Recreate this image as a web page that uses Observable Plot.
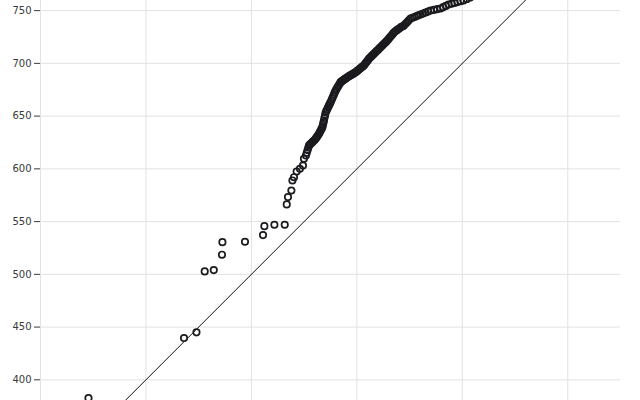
<!DOCTYPE html>
<html>
<head>
<meta charset="utf-8">
<script src="https://cdn.jsdelivr.net/npm/d3@7"></script>
<script src="https://cdn.jsdelivr.net/npm/@observablehq/plot@0.6"></script>
<style>
  html, body { margin: 0; padding: 0; background: #fff; }
  #chart svg { display: block; }
</style>
</head>
<body>
<div id="chart"></div>
<script>
// Theoretical quantiles (x) and sorted sample values (y)
const theoretical = [
  345.5, 436.1, 447.9, 455.7, 464.3, 472.1, 472.5, 493.9, 511.0, 512.3, 521.8, 531.6,
  533.5, 534.7, 537.9, 538.9, 540.4, 542.9, 546.0, 548.9, 549.8, 551.7,
  552.5, 553.3, 554.0, 554.6, 555.6, 556.7, 557.8, 558.8, 559.9, 560.9,
  561.7, 562.5, 563.3, 564.1, 564.9, 565.7, 566.5, 567.3, 567.8, 568.3, 568.8,
  569.3, 569.9, 570.4, 571.2, 572.0, 572.7, 573.5, 574.3, 575.1,
  575.9, 576.7, 577.5, 578.3, 579.1, 579.9, 580.8, 581.8, 582.7, 583.7, 584.6,
  585.5, 586.4, 587.3, 588.2, 589.1, 590.1, 591.0,
  592.0, 593.0, 593.9, 594.9, 595.9, 596.9, 597.8, 598.8,
  599.8, 600.8, 601.7, 602.7, 603.7, 604.7, 605.7, 606.7,
  607.6, 608.6, 609.5, 610.5, 611.4, 612.4, 613.4, 614.3, 615.3, 616.2,
  617.2, 618.3, 619.3, 620.4, 621.4, 622.5, 623.6, 624.6, 625.7, 626.8, 627.8, 628.9,
  630.1, 631.4, 632.6, 633.9, 635.1, 636.5, 638.0, 639.4, 640.8, 642.2, 643.6, 644.6,
  646.2, 647.8, 649.3, 650.9, 652.8, 654.7, 656.6, 658.5, 660.4,
  662.8, 665.2, 667.5, 669.9, 673.0, 676.2, 679.4, 681.9, 684.4, 686.9,
  689.8, 692.6, 695.5, 698.4, 701.2, 704.5, 707.8, 712.0, 717.3
];
const sample = [
  382.7, 439.6, 445.0, 502.8, 504.0, 518.6, 530.5, 530.9, 537.2, 545.7, 547.0, 547.0,
  566.3, 573.2, 579.5, 589.0, 592.1, 597.5, 600.1, 603.2, 609.6, 612.7,
  615.3, 617.9, 620.2, 622.2, 623.2, 624.2, 625.3, 626.3, 627.4, 628.5,
  629.7, 630.9, 632.1, 633.3, 634.8, 636.4, 637.9, 639.5, 641.6, 643.8, 645.9,
  648.4, 650.9, 653.4, 655.0, 656.7, 658.3, 659.9, 661.6, 663.2,
  665.1, 666.9, 668.8, 670.6, 672.5, 674.3, 675.8, 677.5, 679.0, 680.6, 682.2,
  682.9, 683.5, 684.2, 684.8, 685.5, 686.2, 686.9,
  687.5, 688.1, 688.7, 689.2, 689.8, 690.4, 691.0, 691.6,
  692.4, 693.2, 694.0, 694.8, 695.6, 696.4, 697.2, 698.0,
  699.3, 700.5, 701.8, 703.0, 704.3, 705.3, 706.2, 707.2, 708.1, 709.1,
  710.1, 711.2, 712.2, 713.2, 714.3, 715.3, 716.4, 717.4, 718.5, 719.6, 720.6, 721.7,
  723.2, 724.7, 726.2, 727.7, 729.2, 730.5, 731.5, 732.5, 733.5, 734.6, 735.2, 735.9,
  737.6, 739.2, 740.9, 742.5, 743.3, 744.0, 744.8, 745.5, 746.3,
  747.2, 748.2, 749.1, 750.1, 750.7, 751.4, 752.0, 753.3, 754.5, 755.8,
  756.6, 757.3, 758.1, 758.9, 759.6, 761.0, 762.5, 764.0, 765.3
];
const xDomain = [300, 850];
const yDomain = [380.4, 759.6];
const xTicks = [300, 400, 500, 600, 700, 800];
const yTicks = [400, 450, 500, 550, 600, 650, 700, 750];
const refLine = [300, 850]; // y = x reference line endpoints

const points = theoretical.map((t, i) => ({x: t, y: sample[i]}));

const chart = Plot.plot({
  width: 640,
  height: 400,
  marginTop: 0,
  marginBottom: 0,
  marginLeft: 40,
  marginRight: 20,
  style: {fontFamily: "DejaVu Sans", fontSize: "10px", background: "#fff", color: "#3a3a3a"},
  x: {domain: xDomain, axis: null},
  y: {domain: yDomain, ticks: yTicks, label: null},
  marks: [
    Plot.gridX(xTicks, {stroke: "#e2e2e2", strokeOpacity: 1}),
    Plot.gridY(yTicks, {stroke: "#e2e2e2", strokeOpacity: 1}),
    Plot.axisY(yTicks, {label: null, tickSize: 6, stroke: "#3a3a3a", fill: "#3a3a3a"}),
    Plot.link([refLine], {x1: d => d[0], y1: d => d[0], x2: d => d[1], y2: d => d[1], stroke: "#111", strokeWidth: 1, clip: true}),
    Plot.dot(points, {x: "x", y: "y", r: 3.2, stroke: "#1b1b1f", strokeWidth: 1.7, fill: "none", clip: true})
  ]
});
document.getElementById("chart").appendChild(chart);
</script>
</body>
</html>
